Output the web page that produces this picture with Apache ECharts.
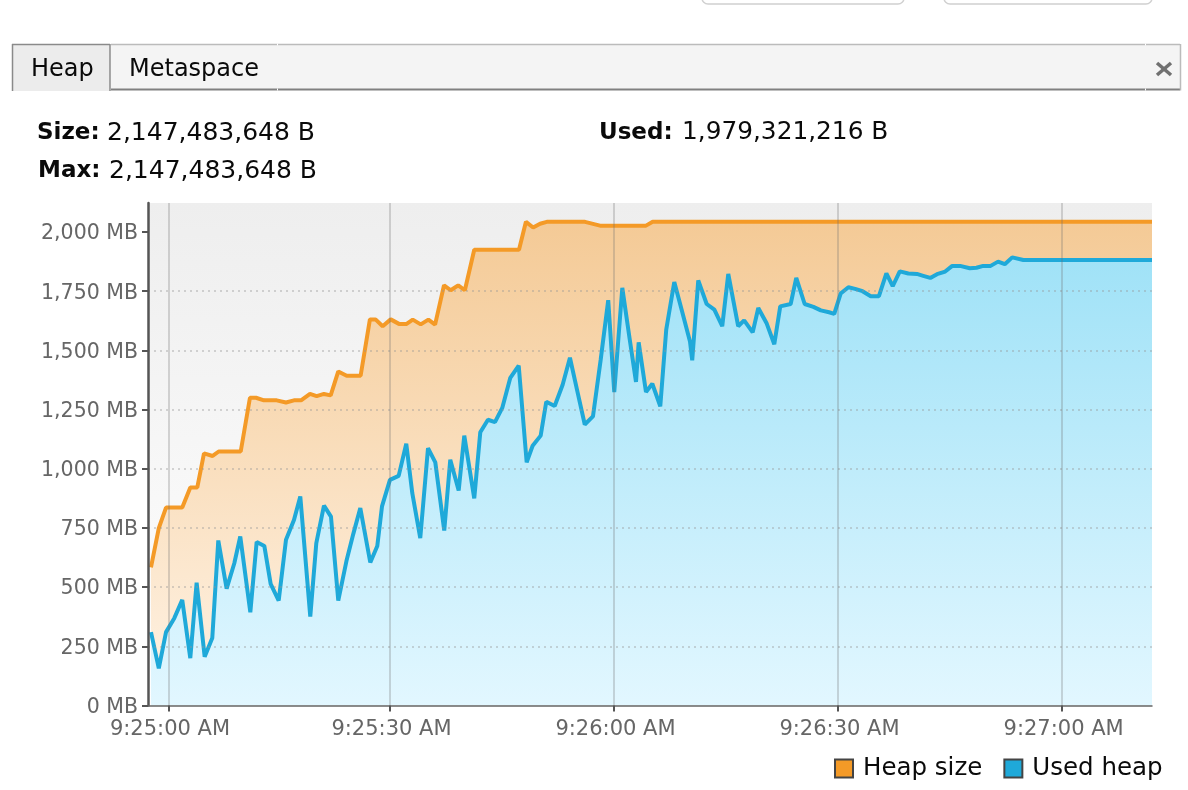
<!DOCTYPE html>
<html>
<head>
<meta charset="utf-8">
<title>Heap</title>
<style>
  html, body { margin: 0; padding: 0; background: #fff; }
  #chart { width: 1188px; height: 790px; }
</style>
<script src="https://cdn.jsdelivr.net/npm/echarts@6/dist/echarts.min.js"></script>
</head>
<body>
<div id="chart"></div>
<script>
// seconds after 9:25:00 AM, and MB at that moment
const heapSeconds = [-2.35, -1.3, -0.33, 0.78, 1.85, 2.93, 3.87, 4.77, 5.93, 6.74, 9.7, 10.94, 11.75, 12.82, 14.53,
  15.78, 16.85, 17.8, 19, 19.9, 20.88, 21.78, 22.8, 23.93, 25.8, 27.05, 27.8, 28.76, 29.84, 30.95, 31.98, 32.8, 33.87,
  34.9, 35.8, 37, 37.9, 38.9, 39.8, 41.06, 47.07, 48, 48.97, 49.9, 50.8, 55.93, 57.95, 64.12, 65.02, 132.07];
const heapSize = [583, 749, 836, 836, 836, 921, 921, 1065, 1054, 1073, 1073, 1300, 1300, 1289, 1289,
  1280, 1289, 1289, 1316, 1307, 1316, 1310, 1411, 1393, 1393, 1631, 1631, 1602, 1631, 1612, 1612, 1630, 1610,
  1630, 1609, 1775, 1754, 1775, 1754, 1925, 1925, 2043, 2019, 2035, 2043, 2043, 2027, 2027, 2043, 2043];

const usedSeconds = [-2.35, -1.3, -0.33, 0.78, 1.85, 2.93, 3.78, 4.86, 5.88, 6.69, 7.81, 8.84, 9.64, 10.99, 11.84,
  12.87, 13.72, 14.8, 15.78, 16.85, 17.7, 19.04, 19.85, 20.88, 21.82, 22.8, 23.93, 24.82, 25.76, 27.1, 28.04, 28.67,
  29.74, 30.91, 31.93, 32.74, 33.81, 34.85, 35.83, 37.03, 37.84, 38.97, 39.72, 41.06, 41.87, 42.9, 43.84, 44.82, 45.9,
  47.03, 48.1, 48.9, 49.98, 50.73, 51.86, 52.93, 53.91, 54.9, 55.9, 57, 58.04, 59.05, 59.86, 60.94, 61.88, 62.78,
  63.14, 64.12, 64.97, 66.04, 66.84, 67.92, 68.91, 70.03, 70.33, 71.14, 72.27, 73.3, 74.36, 75.17, 76.5, 77.3, 78.45,
  79.2, 80.3, 81.35, 82.15, 83.55, 84.3, 85.43, 86.6, 87.6, 88.7, 89.4, 90.26, 91.3, 92.2, 93.2, 94.3, 95.4, 96.4,
  97.25, 98.2, 99.35, 100.5, 101.35, 102.3, 103.2, 104.3, 105.25, 106.3, 107.6, 108.5, 109.4, 110.4, 111.4, 112.3,
  113.3, 114.8, 132.07];
const usedHeap = [310, 157, 310, 369, 446, 200, 519, 206, 285, 697, 494, 601, 714, 394, 691,
  674, 514, 443, 700, 784, 883, 376, 686, 844, 798, 443, 615, 725, 834, 604, 674, 841,
  953, 970, 1106, 897, 707, 1087, 1027, 739, 1038, 908, 1140, 875, 1154, 1207, 1197, 1257, 1384,
  1436, 1027, 1097, 1140, 1283, 1265, 1355, 1469, 1328, 1187, 1221, 1461, 1712, 1324, 1764, 1559, 1367,
  1534, 1324, 1359, 1264, 1588, 1789, 1672, 1538, 1458, 1796, 1696, 1672, 1602, 1823, 1602, 1627, 1576,
  1679, 1616, 1526, 1686, 1696, 1806, 1696, 1684, 1669, 1661, 1654, 1740, 1767, 1760, 1750, 1729, 1729, 1825,
  1771, 1834, 1825, 1823, 1815, 1806, 1822, 1833, 1857, 1857, 1847, 1849, 1857, 1857, 1875, 1864,
  1893, 1882, 1882];

// tick positions, they are not quite evenly spaced there
const xTicks = [0, 29.74, 59.82, 89.9, 120];
const xTickLabels = ['9:25:00 AM', '9:25:30 AM', '9:26:00 AM', '9:26:30 AM', '9:27:00 AM'];
const yTicks = [0, 250, 500, 750, 1000, 1250, 1500, 1750, 2000];

const font = 'DejaVu Sans';
const chart = echarts.init(document.getElementById('chart'));

const zip = (xs, ys) => xs.map((x, i) => [x, ys[i]]);

// plain helpers for the window chrome around the chart
const line = (x1, y1, x2, y2, stroke, lineWidth) => ({
  type: 'line', silent: true, shape: { x1, y1, x2, y2 }, style: { stroke, lineWidth }
});
const text = (x, y, str, size, weight) => ({
  type: 'text', silent: true, x, y,
  style: { text: str, fill: '#0a0a0a', font: `${weight || 'normal'} ${size}px "${font}"`, textVerticalAlign: 'middle' }
});

const chrome = [
  // cut off buttons at the top
  { type: 'rect', silent: true, shape: { x: 702, y: -12, width: 202, height: 16, r: 6 }, style: { fill: '#fff', stroke: '#d0d0d0', lineWidth: 1.5 } },
  { type: 'rect', silent: true, shape: { x: 944, y: -12, width: 208, height: 16, r: 6 }, style: { fill: '#fff', stroke: '#d0d0d0', lineWidth: 1.5 } },
  // tab strip
  { type: 'rect', silent: true, shape: { x: 111, y: 44, width: 1069, height: 46 }, style: { fill: '#f4f4f4' } },
  line(111, 44.5, 1180, 44.5, '#bbbbbb', 1.5),
  line(111, 89.5, 1180, 89.5, '#808080', 2),
  line(1180.5, 44, 1180.5, 90.5, '#bbbbbb', 1.5),
  // little white breaks in the strip borders
  line(277.5, 43.5, 277.5, 45.5, '#ffffff', 1),
  line(277.5, 88.5, 277.5, 90.5, '#ffffff', 1),
  line(1145.5, 43.5, 1145.5, 45.5, '#ffffff', 1),
  line(1145.5, 88.5, 1145.5, 90.5, '#ffffff', 1),
  { type: 'rect', silent: true, shape: { x: 12, y: 44, width: 98, height: 47 }, style: { fill: '#ececec' } },
  line(12, 44.5, 110, 44.5, '#8a8a8a', 1.5),
  line(12.5, 44, 12.5, 91, '#8a8a8a', 1.5),
  line(110, 44, 110, 91, '#8a8a8a', 1.5),
  line(1157, 63, 1171, 75, '#707070', 3.5),
  line(1171, 63, 1157, 75, '#707070', 3.5),
  text(31, 69.5, 'Heap', 24),
  text(129, 69.5, 'Metaspace', 24),
  // size numbers
  text(37, 133, 'Size:', 23, 'bold'),
  text(107, 133, '2,147,483,648 B', 25),
  text(599, 133, 'Used:', 23, 'bold'),
  text(682, 133, '1,979,321,216 B', 24.8),
  text(38, 171, 'Max:', 23, 'bold'),
  text(109, 171, '2,147,483,648 B', 25)
];

const option = {
  animation: false,
  graphic: { elements: chrome },
  grid: {
    show: true,
    left: 148, top: 203, right: 36, bottom: 84.5,
    borderWidth: 0,
    backgroundColor: {
      type: 'linear', x: 0, y: 0, x2: 0, y2: 1,
      colorStops: [{ offset: 0, color: '#eeeeee' }, { offset: 1, color: '#ffffff' }]
    }
  },
  legend: {
    left: 829, top: 751,
    itemWidth: 18, itemHeight: 18, itemGap: 21,
    selectedMode: false,
    textStyle: { fontFamily: font, fontSize: 24.5, color: '#0a0a0a', padding: [3, 0, 0, 5] },
    data: [
      { name: 'Heap size', icon: 'rect', itemStyle: { color: '#f49a27', borderColor: '#444', borderWidth: 2 } },
      { name: 'Used heap', icon: 'rect', itemStyle: { color: '#1fa9d9', borderColor: '#444', borderWidth: 2 } }
    ]
  },
  xAxis: {
    type: 'value',
    min: -2.75, max: 132.07,
    z: 5,
    axisLine: { lineStyle: { color: '#666', width: 1.5 } },
    axisTick: { length: 6, customValues: xTicks, lineStyle: { color: '#555', width: 2 } },
    axisLabel: {
      customValues: xTicks, margin: 14, fontFamily: font, fontSize: 21, color: '#666',
      padding: [0, 0, 0, 3],
      formatter: v => xTickLabels[xTicks.indexOf(v)]
    },
    splitLine: { show: false }
  },
  yAxis: {
    type: 'value',
    min: 0, max: 2122.6, interval: 250,
    z: 5,
    axisLine: { show: true, onZero: false, lineStyle: { color: '#555', width: 2.5 } },
    axisTick: { show: true, length: 6, customValues: yTicks, lineStyle: { color: '#555', width: 2 } },
    axisLabel: {
      customValues: yTicks, margin: 10, fontFamily: font, fontSize: 20.5, color: '#666',
      // top aligned with a tiny line box, puts the text a little under the tick like the original
      verticalAlign: 'top', lineHeight: 4,
      formatter: v => v.toLocaleString('en-US') + ' MB'
    },
    splitLine: { show: true, showMaxLine: false, showMinLine: false, lineStyle: { type: [2, 4], color: 'rgba(150,150,150,0.5)', width: 1.5 } }
  },
  series: [
    {
      name: 'Heap size',
      type: 'line',
      data: zip(heapSeconds, heapSize),
      showSymbol: false,
      lineStyle: { color: '#f49a27', width: 4 },
      itemStyle: { color: '#f49a27' },
      areaStyle: {
        opacity: 1,
        color: new echarts.graphic.LinearGradient(0, 222, 0, 705, [
          { offset: 0, color: '#f4ca96' }, { offset: 1, color: '#fff3e5' }
        ], true)
      }
    },
    {
      name: 'Used heap',
      type: 'line',
      data: zip(usedSeconds, usedHeap),
      showSymbol: false,
      lineStyle: { color: '#1fa9d9', width: 4 },
      itemStyle: { color: '#1fa9d9' },
      areaStyle: {
        opacity: 1,
        color: new echarts.graphic.LinearGradient(0, 258, 0, 705, [
          { offset: 0, color: '#a0e2f7' }, { offset: 1, color: '#e2f7ff' }
        ], true)
      },
      // vertical time gridlines sit above the areas
      markLine: {
        silent: true,
        symbol: 'none',
        label: { show: false },
        z: 6,
        lineStyle: { type: 'solid', color: 'rgba(110,110,110,0.27)', width: 2 },
        data: xTicks.map(v => ({ xAxis: v }))
      }
    }
  ]
};

chart.setOption(option);
</script>
</body>
</html>
